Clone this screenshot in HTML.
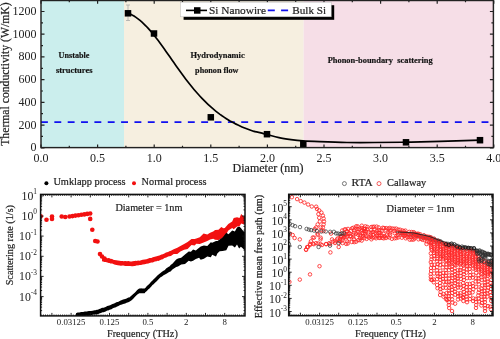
<!DOCTYPE html>
<html><head><meta charset="utf-8"><style>
html,body{margin:0;padding:0;background:#fff;width:500px;height:339px;overflow:hidden}
svg{display:block;filter:blur(0.3px)}
text{stroke:#222;stroke-width:0.2px} text.t{stroke-width:0}
</style></head><body>
<svg width="500" height="339" viewBox="0 0 500 339">

<rect width="500" height="339" fill="#fff"/>
<rect x="41" y="0" width="83" height="147.6" fill="#CBEEED"/><rect x="124" y="0" width="179.60000000000002" height="147.6" fill="#F6EFE0"/><rect x="303.6" y="0" width="189.79999999999995" height="147.6" fill="#F6DEE7"/><text x="58.6" y="57.9" font-family='"Liberation Serif", serif' font-weight="bold" font-size="8.6" textLength="30.8" lengthAdjust="spacingAndGlyphs" fill="#111">Unstable</text><text x="55.9" y="73.3" font-family='"Liberation Serif", serif' font-weight="bold" font-size="8.6" textLength="36.6" lengthAdjust="spacingAndGlyphs" fill="#111">structures</text><text x="190.5" y="58.3" font-family='"Liberation Serif", serif' font-weight="bold" font-size="8.6" textLength="54.21" lengthAdjust="spacingAndGlyphs" fill="#111">Hydrodynamic</text><text x="195.1" y="73.0" font-family='"Liberation Serif", serif' font-weight="bold" font-size="8.6" textLength="43.4" lengthAdjust="spacingAndGlyphs" fill="#111">phonon flow</text><text x="327.7" y="63.0" font-family='"Liberation Serif", serif' font-weight="bold" font-size="8.8" textLength="105" lengthAdjust="spacingAndGlyphs" fill="#111">Phonon-boundary&#160;&#160;scattering</text><line x1="41" y1="122.2" x2="489" y2="122.2" stroke="#1010F0" stroke-width="1.8" stroke-dasharray="6.9 6.45"/><path d="M128.0,12.93 L130.0,13.85 L132.0,14.90 L134.0,16.08 L136.0,17.40 L138.0,18.86 L140.0,20.45 L142.0,22.18 L144.0,24.05 L146.0,26.04 L148.0,28.16 L150.0,30.40 L152.0,32.75 L154.0,35.20 L156.0,37.74 L158.0,40.35 L160.0,43.04 L162.0,45.78 L164.0,48.57 L166.0,51.39 L168.0,54.24 L170.0,57.10 L172.0,59.97 L174.0,62.83 L176.0,65.67 L178.0,68.49 L180.0,71.28 L182.0,74.03 L184.0,76.74 L186.0,79.39 L188.0,81.99 L190.0,84.54 L192.0,87.02 L194.0,89.43 L196.0,91.78 L198.0,94.05 L200.0,96.26 L202.0,98.39 L204.0,100.45 L206.0,102.43 L208.0,104.35 L210.0,106.19 L212.0,107.96 L214.0,109.66 L216.0,111.29 L218.0,112.85 L220.0,114.35 L222.0,115.78 L224.0,117.14 L226.0,118.45 L228.0,119.70 L230.0,120.89 L232.0,122.02 L234.0,123.10 L236.0,124.13 L238.0,125.11 L240.0,126.04 L242.0,126.92 L244.0,127.76 L246.0,128.56 L248.0,129.32 L250.0,130.04 L252.0,130.72 L254.0,131.37 L254.0,131.37109738366442 C255.3,131.7 259.3,132.4 262,133.1 C264.7,133.8 267.2,134.6 270,135.3 C272.8,136.1 275.5,136.9 279,137.6 C282.5,138.3 287.0,139.0 291,139.6 C295.0,140.2 298.2,140.6 303,140.9 C307.8,141.2 312.7,141.4 320,141.7 C327.3,142.0 338.0,142.4 347,142.5 C356.0,142.6 364.2,142.6 374,142.5 C383.8,142.4 395.0,142.4 406,142.2 C417.0,142.0 427.7,141.6 440,141.3 C452.3,141.0 473.3,140.4 480,140.2" fill="none" stroke="#000" stroke-width="1.7"/><g stroke="#aaa" stroke-width="0.8"><line x1="128" y1="5" x2="128" y2="10"/><line x1="126" y1="5" x2="130" y2="5"/><line x1="128" y1="16.5" x2="128" y2="20.5"/><line x1="126" y1="20.5" x2="130" y2="20.5"/></g><rect x="124.75" y="10.05" width="6.5" height="6.5" fill="#000"/><rect x="150.75" y="30.25" width="6.5" height="6.5" fill="#000"/><rect x="207.55" y="114.05" width="6.5" height="6.5" fill="#000"/><rect x="263.75" y="130.95" width="6.5" height="6.5" fill="#000"/><rect x="300.05" y="140.95" width="6.5" height="6.5" fill="#000"/><rect x="402.75" y="139.05" width="6.5" height="6.5" fill="#000"/><rect x="476.75" y="136.95" width="6.5" height="6.5" fill="#000"/><rect x="41" y="0.5" width="452.4" height="147.1" fill="none" stroke="#222" stroke-width="1.45"/><path d="M41.0,147.6v-3.2M41.0,0.5v3.2M69.3,147.6v-1.8M69.3,0.5v1.8M97.6,147.6v-3.2M97.6,0.5v3.2M125.9,147.6v-1.8M125.9,0.5v1.8M154.2,147.6v-3.2M154.2,0.5v3.2M182.5,147.6v-1.8M182.5,0.5v1.8M210.8,147.6v-3.2M210.8,0.5v3.2M239.1,147.6v-1.8M239.1,0.5v1.8M267.4,147.6v-3.2M267.4,0.5v3.2M295.7,147.6v-1.8M295.7,0.5v1.8M324.0,147.6v-3.2M324.0,0.5v3.2M352.3,147.6v-1.8M352.3,0.5v1.8M380.6,147.6v-3.2M380.6,0.5v3.2M408.9,147.6v-1.8M408.9,0.5v1.8M437.2,147.6v-3.2M437.2,0.5v3.2M465.5,147.6v-1.8M465.5,0.5v1.8M493.8,147.6v-3.2M493.8,0.5v3.2M41,147.8h3.5M493.4,147.8h-3.5M41,136.4h2M493.4,136.4h-2M41,125.1h3.5M493.4,125.1h-3.5M41,113.7h2M493.4,113.7h-2M41,102.4h3.5M493.4,102.4h-3.5M41,91.0h2M493.4,91.0h-2M41,79.6h3.5M493.4,79.6h-3.5M41,68.3h2M493.4,68.3h-2M41,56.9h3.5M493.4,56.9h-3.5M41,45.6h2M493.4,45.6h-2M41,34.2h3.5M493.4,34.2h-3.5M41,22.8h2M493.4,22.8h-2M41,11.5h3.5M493.4,11.5h-3.5" stroke="#222" stroke-width="1.2" fill="none"/><text class="t" x="36.4" y="151.2" text-anchor="end" font-family='"Liberation Serif", serif' font-size="12" fill="#222">0</text><text class="t" x="36.4" y="128.5" text-anchor="end" font-family='"Liberation Serif", serif' font-size="12" fill="#222">200</text><text class="t" x="36.4" y="105.8" text-anchor="end" font-family='"Liberation Serif", serif' font-size="12" fill="#222">400</text><text class="t" x="36.4" y="83.0" text-anchor="end" font-family='"Liberation Serif", serif' font-size="12" fill="#222">600</text><text class="t" x="36.4" y="60.3" text-anchor="end" font-family='"Liberation Serif", serif' font-size="12" fill="#222">800</text><text class="t" x="36.4" y="37.6" text-anchor="end" font-family='"Liberation Serif", serif' font-size="12" fill="#222">1000</text><text class="t" x="36.4" y="14.9" text-anchor="end" font-family='"Liberation Serif", serif' font-size="12" fill="#222">1200</text><text class="t" x="41.0" y="161.9" text-anchor="middle" font-family='"Liberation Serif", serif' font-size="12" fill="#222">0.0</text><text class="t" x="97.6" y="161.9" text-anchor="middle" font-family='"Liberation Serif", serif' font-size="12" fill="#222">0.5</text><text class="t" x="154.2" y="161.9" text-anchor="middle" font-family='"Liberation Serif", serif' font-size="12" fill="#222">1.0</text><text class="t" x="210.8" y="161.9" text-anchor="middle" font-family='"Liberation Serif", serif' font-size="12" fill="#222">1.5</text><text class="t" x="267.4" y="161.9" text-anchor="middle" font-family='"Liberation Serif", serif' font-size="12" fill="#222">2.0</text><text class="t" x="324.0" y="161.9" text-anchor="middle" font-family='"Liberation Serif", serif' font-size="12" fill="#222">2.5</text><text class="t" x="380.6" y="161.9" text-anchor="middle" font-family='"Liberation Serif", serif' font-size="12" fill="#222">3.0</text><text class="t" x="437.2" y="161.9" text-anchor="middle" font-family='"Liberation Serif", serif' font-size="12" fill="#222">3.5</text><text class="t" x="493.8" y="161.9" text-anchor="middle" font-family='"Liberation Serif", serif' font-size="12" fill="#222">4.0</text><text x="232.6" y="172.2" font-family='"Liberation Serif", serif' font-size="12.6" textLength="71.01" lengthAdjust="spacingAndGlyphs" fill="#222">Diameter (nm)</text><text transform="translate(8.6,145.8) rotate(-90)" x="0" y="0" font-family='"Liberation Serif", serif' font-size="12" textLength="143.5" lengthAdjust="spacingAndGlyphs" fill="#222">Thermal conductivity (W/mK)</text><rect x="183.6" y="5.2" width="150.6" height="14.6" fill="#000"/><rect x="180.6" y="2.2" width="150.6" height="14.6" fill="#fff" stroke="#bbb" stroke-width="0.5"/><line x1="186" y1="10.4" x2="207" y2="10.4" stroke="#000" stroke-width="1.6"/><rect x="194" y="7.2" width="6.5" height="6.5" fill="#000"/><text x="208.9" y="13.6" font-family='"Liberation Serif", serif' font-size="11.3" textLength="57.04" lengthAdjust="spacingAndGlyphs" fill="#222">Si Nanowire</text><line x1="267.8" y1="10.4" x2="290" y2="10.4" stroke="#1010F0" stroke-width="1.8" stroke-dasharray="7 6.3"/><text x="292.3" y="13.6" font-family='"Liberation Serif", serif' font-size="11.3" textLength="33.86" lengthAdjust="spacingAndGlyphs" fill="#222">Bulk Si</text><clipPath id="cb"><rect x="40.6" y="194.4" width="204.4" height="121.49999999999997"/></clipPath><g fill="#F21010" clip-path="url(#cb)"><circle cx="40.7" cy="216.2" r="2.3"/><circle cx="46.5" cy="219.8" r="2.3"/><circle cx="52.0" cy="216.5" r="2.3"/><circle cx="52.0" cy="218.9" r="2.3"/><circle cx="61.7" cy="216.5" r="2.3"/><circle cx="65.3" cy="217.0" r="2.3"/><circle cx="69.5" cy="216.5" r="2.3"/><circle cx="72.5" cy="216.1" r="2.3"/><circle cx="75.4" cy="215.6" r="2.3"/><circle cx="78.4" cy="215.2" r="2.3"/><circle cx="81.3" cy="214.8" r="2.3"/><circle cx="84.3" cy="214.4" r="2.3"/><circle cx="87.2" cy="213.9" r="2.3"/><circle cx="90.2" cy="213.5" r="2.3"/><circle cx="90.2" cy="218.9" r="2.3"/><circle cx="92.3" cy="229.7" r="2.3"/><circle cx="95.2" cy="241.0" r="2.3"/><circle cx="97.5" cy="241.5" r="2.3"/><circle cx="100.0" cy="254.0" r="2.3"/><circle cx="102.0" cy="256.5" r="2.3"/><circle cx="104.5" cy="258.5" r="2.3"/></g><path clip-path="url(#cb)" d="M102.0,256.2 L103.0,256.5 L104.5,257.1 L105.7,257.8 L107.3,258.2 L108.8,258.1 L109.6,258.2 L110.3,258.7 L112.2,259.0 L113.3,259.7 L114.3,260.0 L116.4,260.2 L117.8,260.6 L119.6,260.8 L121.0,260.9 L122.6,261.0 L123.5,261.2 L125.1,261.0 L127.0,261.3 L128.4,261.1 L130.2,261.6 L131.8,261.6 L132.6,261.2 L134.4,261.1 L135.9,260.8 L137.0,260.9 L137.8,260.4 L139.7,260.7 L141.0,260.2 L142.7,259.8 L144.7,259.5 L146.4,259.2 L148.4,258.6 L149.6,258.0 L151.4,257.9 L152.8,257.3 L154.8,256.7 L156.7,256.3 L157.5,255.9 L158.4,255.8 L159.4,255.6 L161.5,254.5 L162.8,254.3 L164.4,253.4 L165.5,252.8 L166.9,252.2 L168.1,252.0 L169.3,251.2 L170.9,250.8 L173.7,249.3 L177.3,247.8 L180.4,246.0 L184.1,244.0 L187.6,241.9 L191.5,238.9 L194.6,239.1 L196.3,238.5 L199.8,237.2 L203.6,233.6 L207.3,234.4 L210.1,232.7 L213.2,231.4 L215.1,230.0 L218.5,229.8 L221.3,226.9 L223.4,228.2 L224.8,228.1 L228.3,224.0 L232.2,221.5 L233.7,218.0 L237.1,217.2 L239.5,218.0 L241.2,214.1 L243.3,216.3 L246.6,215.6 L247.0,212.3 L247.0,224.2 L246.6,223.2 L243.3,224.2 L241.2,223.6 L239.5,226.3 L237.1,226.4 L233.7,229.2 L232.2,228.0 L228.3,230.4 L224.8,236.8 L223.4,237.7 L221.3,238.7 L218.5,239.9 L215.1,239.8 L213.2,238.7 L210.1,239.4 L207.3,241.1 L203.6,242.4 L199.8,244.0 L196.3,243.7 L194.6,245.4 L191.5,244.9 L187.6,249.0 L184.1,249.8 L180.4,251.6 L177.3,253.9 L173.7,254.1 L170.9,255.9 L169.3,256.3 L168.1,256.4 L166.9,257.3 L165.5,257.8 L164.4,258.1 L162.8,259.2 L161.5,259.4 L159.4,260.6 L158.4,260.9 L157.5,260.8 L156.7,261.3 L154.8,261.5 L152.8,262.4 L151.4,262.4 L149.6,263.1 L148.4,263.5 L146.4,263.8 L144.7,264.3 L142.7,264.6 L141.0,264.9 L139.7,264.9 L137.8,265.5 L137.0,265.2 L135.9,265.8 L134.4,266.0 L132.6,266.2 L131.8,266.3 L130.2,266.0 L128.4,266.1 L127.0,266.0 L125.1,266.1 L123.5,265.5 L122.6,265.6 L121.0,265.7 L119.6,265.4 L117.8,265.3 L116.4,264.9 L114.3,264.6 L113.3,264.0 L112.2,263.6 L110.3,263.4 L109.6,263.0 L108.8,263.0 L107.3,262.4 L105.7,262.1 L104.5,262.0 L103.0,261.5 L102.0,261.2Z" fill="#F21010"/><path clip-path="url(#cb)" d="M76.0,313.3 L77.6,312.5 L79.3,312.5 L81.1,312.1 L83.1,312.1 L84.9,311.6 L86.9,311.6 L87.6,311.3 L89.0,310.9 L91.0,311.1 L92.6,310.7 L94.6,310.2 L95.4,310.3 L96.8,309.8 L97.8,309.7 L99.3,308.9 L100.8,308.6 L101.5,308.1 L102.5,307.7 L103.6,307.8 L105.6,306.9 L107.3,306.1 L108.3,305.7 L110.1,305.2 L111.0,304.8 L112.5,304.1 L113.4,303.7 L114.1,303.4 L116.0,302.4 L117.0,302.1 L118.0,301.9 L120.1,300.8 L122.0,300.0 L123.1,299.6 L125.2,298.9 L126.6,298.4 L128.3,297.6 L129.3,297.4 L131.3,295.8 L133.0,294.2 L135.0,292.4 L137.0,290.2 L138.1,289.3 L139.3,288.4 L140.2,288.6 L141.1,288.3 L141.9,288.5 L143.0,288.4 L144.6,288.6 L145.3,288.0 L146.9,286.0 L148.1,285.1 L149.2,284.0 L151.1,281.8 L152.5,280.5 L153.6,279.3 L155.0,278.0 L156.7,276.2 L157.4,275.6 L159.5,273.7 L160.2,273.3 L162.0,271.8 L163.9,270.5 L164.6,270.2 L166.4,268.3 L167.6,267.4 L169.1,266.4 L169.8,266.2 L170.6,265.1 L172.4,263.8 L176.2,259.5 L178.0,258.6 L181.2,257.8 L185.0,254.5 L188.7,251.5 L190.9,251.8 L193.1,249.4 L195.8,250.5 L199.1,247.7 L200.7,246.6 L203.9,245.5 L207.3,246.1 L210.8,242.3 L212.2,242.8 L216.0,240.9 L217.5,241.1 L219.7,239.4 L222.6,237.5 L226.3,232.8 L228.5,234.2 L232.2,230.5 L234.9,231.5 L237.0,227.4 L239.1,226.6 L240.9,227.9 L242.4,229.9 L244.1,231.8 L247.0,230.1 L247.0,251.1 L244.1,249.7 L242.4,248.0 L240.9,246.7 L239.1,248.4 L237.0,244.6 L234.9,247.6 L232.2,245.6 L228.5,245.7 L226.3,250.3 L222.6,250.9 L219.7,251.2 L217.5,253.2 L216.0,256.4 L212.2,254.7 L210.8,257.2 L207.3,256.6 L203.9,258.8 L200.7,259.7 L199.1,257.7 L195.8,259.1 L193.1,260.7 L190.9,261.4 L188.7,260.8 L185.0,264.0 L181.2,264.6 L178.0,266.4 L176.2,267.0 L172.4,269.5 L170.6,271.4 L169.8,271.7 L169.1,272.0 L167.6,272.9 L166.4,273.7 L164.6,274.7 L163.9,275.1 L162.0,276.5 L160.2,277.6 L159.5,278.2 L157.4,280.5 L156.7,281.2 L155.0,282.7 L153.6,284.2 L152.5,285.1 L151.1,286.8 L149.2,288.7 L148.1,289.6 L146.9,290.9 L145.3,292.3 L144.6,293.2 L143.0,293.2 L141.9,293.2 L141.1,293.3 L140.2,293.3 L139.3,293.3 L138.1,294.1 L137.0,294.7 L135.0,296.8 L133.0,299.0 L131.3,300.5 L129.3,301.7 L128.3,302.3 L126.6,302.7 L125.2,303.5 L123.1,304.1 L122.0,304.4 L120.1,305.0 L118.0,306.3 L117.0,306.5 L116.0,307.2 L114.1,307.7 L113.4,308.1 L112.5,308.6 L111.0,309.4 L110.1,309.5 L108.3,310.5 L107.3,310.5 L105.6,311.4 L103.6,312.3 L102.5,312.3 L101.5,312.7 L100.8,313.0 L99.3,313.5 L97.8,314.2 L96.8,314.6 L95.4,314.5 L94.6,314.5 L92.6,314.8 L91.0,315.3 L89.0,315.7 L87.6,315.9 L86.9,315.6 L84.9,315.9 L83.1,316.4 L81.1,316.7 L79.3,316.9 L77.6,317.5 L76.0,317.2Z" fill="#000"/><rect x="40.6" y="194.4" width="204.4" height="121.49999999999997" fill="none" stroke="#111" stroke-width="1.5"/><path d="M40.6,310.6h1.5M245,310.6h-1.5M40.6,307.1h1.5M245,307.1h-1.5M40.6,304.6h1.5M245,304.6h-1.5M40.6,302.6h1.5M245,302.6h-1.5M40.6,301.0h1.5M245,301.0h-1.5M40.6,299.7h1.5M245,299.7h-1.5M40.6,298.5h1.5M245,298.5h-1.5M40.6,297.5h1.5M245,297.5h-1.5M40.6,296.6h3M245,296.6h-3M40.6,290.5h1.5M245,290.5h-1.5M40.6,287.0h1.5M245,287.0h-1.5M40.6,284.4h1.5M245,284.4h-1.5M40.6,282.5h1.5M245,282.5h-1.5M40.6,280.9h1.5M245,280.9h-1.5M40.6,279.5h1.5M245,279.5h-1.5M40.6,278.4h1.5M245,278.4h-1.5M40.6,277.3h1.5M245,277.3h-1.5M40.6,276.4h3M245,276.4h-3M40.6,270.4h1.5M245,270.4h-1.5M40.6,266.8h1.5M245,266.8h-1.5M40.6,264.3h1.5M245,264.3h-1.5M40.6,262.3h1.5M245,262.3h-1.5M40.6,260.7h1.5M245,260.7h-1.5M40.6,259.4h1.5M245,259.4h-1.5M40.6,258.2h1.5M245,258.2h-1.5M40.6,257.2h1.5M245,257.2h-1.5M40.6,256.3h3M245,256.3h-3M40.6,250.2h1.5M245,250.2h-1.5M40.6,246.7h1.5M245,246.7h-1.5M40.6,244.2h1.5M245,244.2h-1.5M40.6,242.2h1.5M245,242.2h-1.5M40.6,240.6h1.5M245,240.6h-1.5M40.6,239.3h1.5M245,239.3h-1.5M40.6,238.1h1.5M245,238.1h-1.5M40.6,237.1h1.5M245,237.1h-1.5M40.6,236.1h3M245,236.1h-3M40.6,230.1h1.5M245,230.1h-1.5M40.6,226.5h1.5M245,226.5h-1.5M40.6,224.0h1.5M245,224.0h-1.5M40.6,222.1h1.5M245,222.1h-1.5M40.6,220.5h1.5M245,220.5h-1.5M40.6,219.1h1.5M245,219.1h-1.5M40.6,218.0h1.5M245,218.0h-1.5M40.6,216.9h1.5M245,216.9h-1.5M40.6,216.0h3M245,216.0h-3M40.6,209.9h1.5M245,209.9h-1.5M40.6,206.4h1.5M245,206.4h-1.5M40.6,203.9h1.5M245,203.9h-1.5M40.6,201.9h1.5M245,201.9h-1.5M40.6,200.3h1.5M245,200.3h-1.5M40.6,199.0h1.5M245,199.0h-1.5M40.6,197.8h1.5M245,197.8h-1.5M40.6,196.8h1.5M245,196.8h-1.5M40.6,195.9h3M245,195.9h-3M41.2,315.9v-1.4M41.2,194.4v1.4M43.4,315.9v-1.4M43.4,194.4v1.4M45.5,315.9v-1.4M45.5,194.4v1.4M47.6,315.9v-1.4M47.6,194.4v1.4M49.8,315.9v-1.4M49.8,194.4v1.4M51.9,315.9v-3M51.9,194.4v3M54.0,315.9v-1.4M54.0,194.4v1.4M56.2,315.9v-1.4M56.2,194.4v1.4M58.3,315.9v-1.4M58.3,194.4v1.4M60.4,315.9v-1.4M60.4,194.4v1.4M62.6,315.9v-1.4M62.6,194.4v1.4M64.7,315.9v-1.4M64.7,194.4v1.4M66.8,315.9v-1.4M66.8,194.4v1.4M69.0,315.9v-1.4M69.0,194.4v1.4M71.1,315.9v-3M71.1,194.4v3M73.2,315.9v-1.4M73.2,194.4v1.4M75.4,315.9v-1.4M75.4,194.4v1.4M77.5,315.9v-1.4M77.5,194.4v1.4M79.6,315.9v-1.4M79.6,194.4v1.4M81.8,315.9v-1.4M81.8,194.4v1.4M83.9,315.9v-1.4M83.9,194.4v1.4M86.0,315.9v-1.4M86.0,194.4v1.4M88.2,315.9v-1.4M88.2,194.4v1.4M90.3,315.9v-3M90.3,194.4v3M92.4,315.9v-1.4M92.4,194.4v1.4M94.6,315.9v-1.4M94.6,194.4v1.4M96.7,315.9v-1.4M96.7,194.4v1.4M98.8,315.9v-1.4M98.8,194.4v1.4M101.0,315.9v-1.4M101.0,194.4v1.4M103.1,315.9v-1.4M103.1,194.4v1.4M105.2,315.9v-1.4M105.2,194.4v1.4M107.4,315.9v-1.4M107.4,194.4v1.4M109.5,315.9v-3M109.5,194.4v3M111.6,315.9v-1.4M111.6,194.4v1.4M113.8,315.9v-1.4M113.8,194.4v1.4M115.9,315.9v-1.4M115.9,194.4v1.4M118.0,315.9v-1.4M118.0,194.4v1.4M120.2,315.9v-1.4M120.2,194.4v1.4M122.3,315.9v-1.4M122.3,194.4v1.4M124.4,315.9v-1.4M124.4,194.4v1.4M126.6,315.9v-1.4M126.6,194.4v1.4M128.7,315.9v-3M128.7,194.4v3M130.8,315.9v-1.4M130.8,194.4v1.4M133.0,315.9v-1.4M133.0,194.4v1.4M135.1,315.9v-1.4M135.1,194.4v1.4M137.2,315.9v-1.4M137.2,194.4v1.4M139.4,315.9v-1.4M139.4,194.4v1.4M141.5,315.9v-1.4M141.5,194.4v1.4M143.6,315.9v-1.4M143.6,194.4v1.4M145.8,315.9v-1.4M145.8,194.4v1.4M147.9,315.9v-3M147.9,194.4v3M150.0,315.9v-1.4M150.0,194.4v1.4M152.2,315.9v-1.4M152.2,194.4v1.4M154.3,315.9v-1.4M154.3,194.4v1.4M156.4,315.9v-1.4M156.4,194.4v1.4M158.6,315.9v-1.4M158.6,194.4v1.4M160.7,315.9v-1.4M160.7,194.4v1.4M162.8,315.9v-1.4M162.8,194.4v1.4M165.0,315.9v-1.4M165.0,194.4v1.4M167.1,315.9v-3M167.1,194.4v3M169.2,315.9v-1.4M169.2,194.4v1.4M171.4,315.9v-1.4M171.4,194.4v1.4M173.5,315.9v-1.4M173.5,194.4v1.4M175.6,315.9v-1.4M175.6,194.4v1.4M177.8,315.9v-1.4M177.8,194.4v1.4M179.9,315.9v-1.4M179.9,194.4v1.4M182.0,315.9v-1.4M182.0,194.4v1.4M184.2,315.9v-1.4M184.2,194.4v1.4M186.3,315.9v-3M186.3,194.4v3M188.4,315.9v-1.4M188.4,194.4v1.4M190.6,315.9v-1.4M190.6,194.4v1.4M192.7,315.9v-1.4M192.7,194.4v1.4M194.8,315.9v-1.4M194.8,194.4v1.4M197.0,315.9v-1.4M197.0,194.4v1.4M199.1,315.9v-1.4M199.1,194.4v1.4M201.2,315.9v-1.4M201.2,194.4v1.4M203.4,315.9v-1.4M203.4,194.4v1.4M205.5,315.9v-3M205.5,194.4v3M207.6,315.9v-1.4M207.6,194.4v1.4M209.8,315.9v-1.4M209.8,194.4v1.4M211.9,315.9v-1.4M211.9,194.4v1.4M214.0,315.9v-1.4M214.0,194.4v1.4M216.2,315.9v-1.4M216.2,194.4v1.4M218.3,315.9v-1.4M218.3,194.4v1.4M220.4,315.9v-1.4M220.4,194.4v1.4M222.6,315.9v-1.4M222.6,194.4v1.4M224.7,315.9v-3M224.7,194.4v3M226.8,315.9v-1.4M226.8,194.4v1.4M229.0,315.9v-1.4M229.0,194.4v1.4M231.1,315.9v-1.4M231.1,194.4v1.4M233.2,315.9v-1.4M233.2,194.4v1.4M235.4,315.9v-1.4M235.4,194.4v1.4M237.5,315.9v-1.4M237.5,194.4v1.4M239.6,315.9v-1.4M239.6,194.4v1.4M241.8,315.9v-1.4M241.8,194.4v1.4M243.9,315.9v-3M243.9,194.4v3" stroke="#111" stroke-width="0.9" fill="none"/><text class="t" x="71.1" y="325.2" text-anchor="middle" font-family='"Liberation Serif", serif' font-size="8.8" fill="#222">0.03125</text><text class="t" x="109.5" y="325.2" text-anchor="middle" font-family='"Liberation Serif", serif' font-size="8.8" fill="#222">0.125</text><text class="t" x="147.9" y="325.2" text-anchor="middle" font-family='"Liberation Serif", serif' font-size="8.8" fill="#222">0.5</text><text class="t" x="186.3" y="325.2" text-anchor="middle" font-family='"Liberation Serif", serif' font-size="8.8" fill="#222">2</text><text class="t" x="224.7" y="325.2" text-anchor="middle" font-family='"Liberation Serif", serif' font-size="8.8" fill="#222">8</text><text class="t" x="37" y="300.6" text-anchor="end" font-family='"Liberation Serif", serif' font-size="7.5" fill="#222"><tspan font-size="11.8">10</tspan><tspan font-size="7.4" dy="-5.6">-4</tspan></text><text class="t" x="37" y="280.4" text-anchor="end" font-family='"Liberation Serif", serif' font-size="7.5" fill="#222"><tspan font-size="11.8">10</tspan><tspan font-size="7.4" dy="-5.6">-3</tspan></text><text class="t" x="37" y="260.3" text-anchor="end" font-family='"Liberation Serif", serif' font-size="7.5" fill="#222"><tspan font-size="11.8">10</tspan><tspan font-size="7.4" dy="-5.6">-2</tspan></text><text class="t" x="37" y="240.1" text-anchor="end" font-family='"Liberation Serif", serif' font-size="7.5" fill="#222"><tspan font-size="11.8">10</tspan><tspan font-size="7.4" dy="-5.6">-1</tspan></text><text class="t" x="37" y="220.0" text-anchor="end" font-family='"Liberation Serif", serif' font-size="7.5" fill="#222"><tspan font-size="11.8">10</tspan><tspan font-size="7.4" dy="-5.6">0</tspan></text><text class="t" x="37" y="199.9" text-anchor="end" font-family='"Liberation Serif", serif' font-size="7.5" fill="#222"><tspan font-size="11.8">10</tspan><tspan font-size="7.4" dy="-5.6">1</tspan></text><text x="107" y="336.8" font-family='"Liberation Serif", serif' font-size="10.9" textLength="70.83" lengthAdjust="spacingAndGlyphs" fill="#222">Frequency (THz)</text><text transform="translate(13,285.3) rotate(-90)" font-family='"Liberation Serif", serif' font-size="11" textLength="80.3" lengthAdjust="spacingAndGlyphs" fill="#222">Scattering rate (1/s)</text><text x="115.4" y="211" font-family='"Liberation Serif", serif' font-size="10.8" textLength="67.02" lengthAdjust="spacingAndGlyphs" fill="#222">Diameter = 1nm</text><circle cx="46.4" cy="183.2" r="2" fill="#000"/><text x="53.4" y="184.9" font-family='"Liberation Serif", serif' font-size="11" textLength="72.24" lengthAdjust="spacingAndGlyphs" fill="#222">Umklapp process</text><circle cx="134" cy="183.2" r="2" fill="#F21010"/><text x="141.6" y="184.9" font-family='"Liberation Serif", serif' font-size="11" textLength="64.83" lengthAdjust="spacingAndGlyphs" fill="#222">Normal process</text><clipPath id="cr"><rect x="288.7" y="194.3" width="204.3" height="121.39999999999998"/></clipPath><g clip-path="url(#cr)" fill="none" stroke-width="0.7"><g stroke="#444"><circle cx="400.0" cy="233.2" r="1.75"/><circle cx="402.0" cy="233.5" r="1.75"/><circle cx="404.0" cy="233.4" r="1.75"/><circle cx="406.0" cy="233.2" r="1.75"/><circle cx="408.0" cy="234.3" r="1.75"/><circle cx="410.0" cy="234.4" r="1.75"/><circle cx="412.0" cy="234.3" r="1.75"/><circle cx="413.1" cy="235.7" r="1.75"/><circle cx="414.0" cy="233.9" r="1.75"/><circle cx="415.1" cy="234.8" r="1.75"/><circle cx="416.0" cy="234.3" r="1.75"/><circle cx="417.1" cy="234.8" r="1.75"/><circle cx="418.0" cy="235.4" r="1.75"/><circle cx="419.1" cy="236.1" r="1.75"/><circle cx="420.0" cy="235.9" r="1.75"/><circle cx="421.1" cy="236.5" r="1.75"/><circle cx="422.0" cy="236.6" r="1.75"/><circle cx="423.1" cy="238.1" r="1.75"/><circle cx="424.0" cy="235.7" r="1.75"/><circle cx="425.1" cy="237.0" r="1.75"/><circle cx="426.0" cy="237.4" r="1.75"/><circle cx="427.1" cy="238.1" r="1.75"/><circle cx="428.0" cy="237.9" r="1.75"/><circle cx="429.1" cy="238.3" r="1.75"/><circle cx="430.0" cy="237.1" r="1.75"/><circle cx="431.1" cy="239.4" r="1.75"/><circle cx="432.0" cy="238.9" r="1.75"/><circle cx="433.1" cy="239.3" r="1.75"/><circle cx="434.0" cy="238.7" r="1.75"/><circle cx="435.1" cy="240.2" r="1.75"/><circle cx="436.0" cy="240.7" r="1.75"/><circle cx="437.1" cy="242.1" r="1.75"/><circle cx="438.0" cy="240.4" r="1.75"/><circle cx="439.1" cy="241.6" r="1.75"/><circle cx="440.0" cy="241.1" r="1.75"/><circle cx="441.1" cy="241.9" r="1.75"/><circle cx="442.0" cy="242.9" r="1.75"/><circle cx="443.1" cy="243.0" r="1.75"/><circle cx="444.0" cy="243.4" r="1.75"/><circle cx="445.1" cy="244.5" r="1.75"/><circle cx="446.0" cy="243.5" r="1.75"/><circle cx="447.1" cy="245.8" r="1.75"/><circle cx="448.0" cy="243.8" r="1.75"/><circle cx="449.1" cy="246.0" r="1.75"/><circle cx="450.0" cy="244.2" r="1.75"/><circle cx="451.1" cy="245.9" r="1.75"/><circle cx="452.0" cy="244.7" r="1.75"/><circle cx="453.1" cy="245.9" r="1.75"/><circle cx="454.0" cy="246.2" r="1.75"/><circle cx="455.1" cy="247.6" r="1.75"/><circle cx="456.0" cy="245.6" r="1.75"/><circle cx="457.1" cy="248.2" r="1.75"/><circle cx="458.0" cy="245.9" r="1.75"/><circle cx="459.1" cy="247.4" r="1.75"/><circle cx="460.0" cy="247.2" r="1.75"/><circle cx="461.1" cy="248.4" r="1.75"/><circle cx="462.0" cy="246.5" r="1.75"/><circle cx="463.1" cy="249.7" r="1.75"/><circle cx="464.0" cy="247.1" r="1.75"/><circle cx="465.1" cy="248.2" r="1.75"/><circle cx="466.0" cy="248.3" r="1.75"/><circle cx="467.1" cy="248.8" r="1.75"/><circle cx="468.0" cy="248.0" r="1.75"/><circle cx="469.1" cy="248.6" r="1.75"/><circle cx="470.0" cy="248.1" r="1.75"/><circle cx="471.1" cy="250.3" r="1.75"/><circle cx="472.0" cy="248.7" r="1.75"/><circle cx="473.1" cy="250.7" r="1.75"/><circle cx="474.0" cy="249.3" r="1.75"/><circle cx="475.1" cy="250.7" r="1.75"/><circle cx="476.0" cy="250.7" r="1.75"/></g><g stroke="#FF2828" stroke-width="0.85"><circle cx="291.9" cy="197.2" r="1.75"/><circle cx="297.1" cy="199.1" r="1.75"/><circle cx="300.7" cy="201.1" r="1.75"/><circle cx="304.4" cy="202.6" r="1.75"/><circle cx="308.1" cy="204.5" r="1.75"/><circle cx="311.8" cy="206.5" r="1.75"/><circle cx="316.2" cy="206.7" r="1.75"/><circle cx="317.0" cy="209.0" r="1.75"/><circle cx="319.2" cy="210.4" r="1.75"/><circle cx="321.4" cy="212.6" r="1.75"/><circle cx="322.9" cy="215.6" r="1.75"/><circle cx="323.6" cy="218.5" r="1.75"/><circle cx="324.0" cy="221.5" r="1.75"/><circle cx="323.6" cy="224.4" r="1.75"/><circle cx="322.9" cy="227.4" r="1.75"/><circle cx="323.6" cy="231.1" r="1.75"/><circle cx="318.4" cy="214.1" r="1.75"/><circle cx="319.2" cy="217.8" r="1.75"/><circle cx="319.9" cy="221.5" r="1.75"/><circle cx="317.7" cy="224.4" r="1.75"/><circle cx="316.2" cy="227.4" r="1.75"/><circle cx="314.8" cy="228.9" r="1.75"/><circle cx="320.7" cy="227.4" r="1.75"/><circle cx="321.4" cy="230.3" r="1.75"/><circle cx="317.7" cy="234.8" r="1.75"/><circle cx="314.0" cy="237.7" r="1.75"/><circle cx="320.7" cy="237.7" r="1.75"/><circle cx="289.8" cy="233.6" r="1.75"/><circle cx="292.7" cy="235.0" r="1.75"/><circle cx="294.6" cy="238.0" r="1.75"/><circle cx="299.8" cy="239.4" r="1.75"/><circle cx="306.1" cy="249.9" r="1.75"/><circle cx="307.1" cy="247.0" r="1.75"/><circle cx="310.0" cy="243.8" r="1.75"/><circle cx="310.9" cy="241.3" r="1.75"/><circle cx="312.8" cy="237.5" r="1.75"/><circle cx="313.8" cy="244.2" r="1.75"/><circle cx="317.6" cy="233.6" r="1.75"/><circle cx="320.5" cy="244.2" r="1.75"/><circle cx="320.5" cy="239.4" r="1.75"/><circle cx="326.2" cy="244.2" r="1.75"/><circle cx="329.1" cy="243.2" r="1.75"/><circle cx="331.0" cy="233.6" r="1.75"/><circle cx="332.0" cy="239.4" r="1.75"/><circle cx="334.9" cy="241.3" r="1.75"/><circle cx="337.7" cy="238.4" r="1.75"/><circle cx="340.6" cy="236.5" r="1.75"/><circle cx="343.5" cy="235.5" r="1.75"/><circle cx="338.7" cy="247.0" r="1.75"/><circle cx="330.4" cy="252.4" r="1.75"/><circle cx="319.5" cy="266.2" r="1.75"/><circle cx="310.0" cy="274.4" r="1.75"/><circle cx="299.8" cy="279.6" r="1.75"/><circle cx="289.4" cy="281.9" r="1.75"/><circle cx="340.2" cy="239.0" r="1.75"/><circle cx="340.3" cy="241.6" r="1.75"/><circle cx="342.2" cy="230.5" r="1.75"/><circle cx="341.4" cy="235.9" r="1.75"/><circle cx="342.5" cy="240.4" r="1.75"/><circle cx="342.5" cy="243.1" r="1.75"/><circle cx="344.5" cy="229.6" r="1.75"/><circle cx="344.1" cy="237.2" r="1.75"/><circle cx="345.5" cy="229.3" r="1.75"/><circle cx="346.3" cy="234.3" r="1.75"/><circle cx="345.3" cy="237.2" r="1.75"/><circle cx="346.2" cy="243.9" r="1.75"/><circle cx="348.0" cy="228.9" r="1.75"/><circle cx="347.0" cy="231.1" r="1.75"/><circle cx="347.7" cy="233.7" r="1.75"/><circle cx="347.2" cy="241.5" r="1.75"/><circle cx="347.8" cy="243.5" r="1.75"/><circle cx="349.7" cy="233.5" r="1.75"/><circle cx="349.9" cy="236.4" r="1.75"/><circle cx="349.3" cy="239.1" r="1.75"/><circle cx="352.0" cy="228.3" r="1.75"/><circle cx="351.1" cy="230.8" r="1.75"/><circle cx="351.1" cy="236.2" r="1.75"/><circle cx="351.8" cy="242.0" r="1.75"/><circle cx="353.3" cy="227.8" r="1.75"/><circle cx="354.1" cy="230.2" r="1.75"/><circle cx="354.1" cy="232.7" r="1.75"/><circle cx="353.4" cy="234.8" r="1.75"/><circle cx="353.3" cy="237.1" r="1.75"/><circle cx="354.0" cy="239.2" r="1.75"/><circle cx="354.3" cy="242.1" r="1.75"/><circle cx="356.2" cy="226.3" r="1.75"/><circle cx="356.3" cy="228.6" r="1.75"/><circle cx="356.0" cy="233.7" r="1.75"/><circle cx="356.2" cy="241.7" r="1.75"/><circle cx="357.6" cy="226.3" r="1.75"/><circle cx="358.0" cy="229.3" r="1.75"/><circle cx="358.1" cy="232.1" r="1.75"/><circle cx="358.2" cy="234.8" r="1.75"/><circle cx="358.1" cy="240.1" r="1.75"/><circle cx="359.7" cy="228.8" r="1.75"/><circle cx="359.5" cy="233.5" r="1.75"/><circle cx="360.3" cy="235.7" r="1.75"/><circle cx="360.2" cy="238.0" r="1.75"/><circle cx="359.6" cy="240.1" r="1.75"/><circle cx="361.8" cy="225.7" r="1.75"/><circle cx="361.9" cy="228.0" r="1.75"/><circle cx="362.1" cy="230.2" r="1.75"/><circle cx="362.3" cy="232.8" r="1.75"/><circle cx="362.3" cy="237.7" r="1.75"/><circle cx="361.7" cy="240.6" r="1.75"/><circle cx="363.9" cy="228.9" r="1.75"/><circle cx="364.1" cy="231.1" r="1.75"/><circle cx="363.2" cy="233.6" r="1.75"/><circle cx="363.1" cy="236.0" r="1.75"/><circle cx="364.2" cy="238.2" r="1.75"/><circle cx="365.4" cy="226.3" r="1.75"/><circle cx="364.9" cy="228.9" r="1.75"/><circle cx="365.4" cy="231.0" r="1.75"/><circle cx="364.9" cy="233.6" r="1.75"/><circle cx="365.8" cy="235.7" r="1.75"/><circle cx="367.3" cy="226.9" r="1.75"/><circle cx="367.0" cy="229.2" r="1.75"/><circle cx="366.4" cy="231.7" r="1.75"/><circle cx="367.3" cy="236.5" r="1.75"/><circle cx="366.6" cy="238.9" r="1.75"/><circle cx="368.7" cy="232.3" r="1.75"/><circle cx="369.1" cy="237.6" r="1.75"/><circle cx="371.3" cy="227.0" r="1.75"/><circle cx="371.2" cy="229.9" r="1.75"/><circle cx="371.1" cy="232.6" r="1.75"/><circle cx="370.8" cy="234.7" r="1.75"/><circle cx="371.0" cy="236.7" r="1.75"/><circle cx="371.4" cy="239.3" r="1.75"/><circle cx="372.8" cy="226.9" r="1.75"/><circle cx="373.0" cy="232.0" r="1.75"/><circle cx="372.9" cy="234.9" r="1.75"/><circle cx="372.6" cy="237.7" r="1.75"/><circle cx="374.2" cy="226.7" r="1.75"/><circle cx="374.5" cy="229.6" r="1.75"/><circle cx="375.1" cy="232.6" r="1.75"/><circle cx="374.8" cy="237.3" r="1.75"/><circle cx="376.6" cy="226.6" r="1.75"/><circle cx="376.6" cy="231.1" r="1.75"/><circle cx="376.6" cy="233.4" r="1.75"/><circle cx="376.7" cy="236.0" r="1.75"/><circle cx="376.1" cy="238.3" r="1.75"/><circle cx="378.7" cy="227.4" r="1.75"/><circle cx="378.8" cy="230.1" r="1.75"/><circle cx="378.7" cy="233.1" r="1.75"/><circle cx="378.7" cy="235.5" r="1.75"/><circle cx="378.7" cy="237.8" r="1.75"/><circle cx="380.3" cy="230.4" r="1.75"/><circle cx="379.6" cy="232.9" r="1.75"/><circle cx="380.1" cy="235.4" r="1.75"/><circle cx="379.9" cy="238.0" r="1.75"/><circle cx="382.7" cy="227.8" r="1.75"/><circle cx="381.8" cy="230.7" r="1.75"/><circle cx="381.9" cy="235.6" r="1.75"/><circle cx="382.2" cy="237.9" r="1.75"/><circle cx="383.9" cy="228.0" r="1.75"/><circle cx="383.7" cy="233.9" r="1.75"/><circle cx="384.3" cy="236.2" r="1.75"/><circle cx="383.7" cy="238.3" r="1.75"/><circle cx="386.2" cy="228.1" r="1.75"/><circle cx="386.2" cy="230.5" r="1.75"/><circle cx="386.7" cy="235.4" r="1.75"/><circle cx="386.0" cy="238.0" r="1.75"/><circle cx="388.3" cy="228.6" r="1.75"/><circle cx="388.2" cy="231.6" r="1.75"/><circle cx="387.7" cy="236.8" r="1.75"/><circle cx="389.8" cy="227.9" r="1.75"/><circle cx="390.1" cy="230.6" r="1.75"/><circle cx="390.0" cy="232.7" r="1.75"/><circle cx="390.1" cy="234.8" r="1.75"/><circle cx="389.4" cy="237.5" r="1.75"/><circle cx="392.2" cy="228.5" r="1.75"/><circle cx="391.9" cy="238.8" r="1.75"/><circle cx="394.1" cy="228.7" r="1.75"/><circle cx="394.2" cy="231.0" r="1.75"/><circle cx="394.7" cy="233.2" r="1.75"/><circle cx="394.6" cy="238.3" r="1.75"/><circle cx="396.2" cy="228.6" r="1.75"/><circle cx="396.5" cy="235.9" r="1.75"/><circle cx="396.4" cy="238.0" r="1.75"/><circle cx="398.1" cy="229.6" r="1.75"/><circle cx="397.5" cy="232.2" r="1.75"/><circle cx="398.1" cy="235.0" r="1.75"/><circle cx="398.4" cy="237.4" r="1.75"/><circle cx="400.0" cy="229.7" r="1.75"/><circle cx="400.2" cy="232.6" r="1.75"/><circle cx="402.4" cy="230.4" r="1.75"/><circle cx="402.1" cy="233.2" r="1.75"/><circle cx="402.7" cy="235.3" r="1.75"/><circle cx="401.8" cy="237.7" r="1.75"/><circle cx="403.8" cy="231.2" r="1.75"/><circle cx="404.3" cy="233.3" r="1.75"/><circle cx="403.9" cy="235.5" r="1.75"/><circle cx="405.4" cy="230.6" r="1.75"/><circle cx="405.3" cy="233.3" r="1.75"/><circle cx="405.3" cy="235.5" r="1.75"/><circle cx="405.7" cy="238.3" r="1.75"/><circle cx="407.7" cy="234.1" r="1.75"/><circle cx="407.3" cy="237.0" r="1.75"/><circle cx="409.3" cy="231.9" r="1.75"/><circle cx="409.3" cy="234.9" r="1.75"/><circle cx="409.4" cy="236.9" r="1.75"/><circle cx="409.7" cy="239.7" r="1.75"/><circle cx="411.7" cy="232.0" r="1.75"/><circle cx="411.9" cy="234.5" r="1.75"/><circle cx="410.9" cy="236.8" r="1.75"/><circle cx="411.7" cy="239.6" r="1.75"/><circle cx="413.8" cy="232.2" r="1.75"/><circle cx="413.5" cy="234.3" r="1.75"/><circle cx="414.0" cy="237.3" r="1.75"/><circle cx="413.5" cy="239.6" r="1.75"/><circle cx="415.3" cy="233.5" r="1.75"/><circle cx="415.6" cy="236.0" r="1.75"/><circle cx="414.7" cy="238.4" r="1.75"/><circle cx="417.4" cy="233.8" r="1.75"/><circle cx="417.2" cy="235.9" r="1.75"/><circle cx="418.5" cy="233.8" r="1.75"/><circle cx="418.2" cy="236.3" r="1.75"/><circle cx="418.5" cy="239.3" r="1.75"/><circle cx="420.4" cy="234.3" r="1.75"/><circle cx="420.8" cy="236.6" r="1.75"/><circle cx="420.9" cy="238.9" r="1.75"/><circle cx="422.3" cy="237.1" r="1.75"/><circle cx="422.4" cy="239.8" r="1.75"/><circle cx="424.0" cy="235.4" r="1.75"/><circle cx="425.0" cy="237.9" r="1.75"/><circle cx="424.7" cy="240.3" r="1.75"/><circle cx="426.6" cy="236.4" r="1.75"/><circle cx="427.0" cy="238.4" r="1.75"/><circle cx="426.9" cy="241.4" r="1.75"/><circle cx="426.5" cy="244.0" r="1.75"/><circle cx="428.9" cy="236.8" r="1.75"/><circle cx="429.2" cy="242.2" r="1.75"/><circle cx="430.5" cy="237.9" r="1.75"/><circle cx="431.3" cy="243.2" r="1.75"/><circle cx="431.3" cy="237.6" r="1.75"/><circle cx="431.0" cy="239.4" r="1.75"/><circle cx="431.1" cy="241.3" r="1.75"/><circle cx="430.8" cy="243.0" r="1.75"/><circle cx="430.8" cy="245.0" r="1.75"/><circle cx="431.2" cy="246.9" r="1.75"/><circle cx="431.3" cy="248.7" r="1.75"/><circle cx="431.7" cy="250.2" r="1.75"/><circle cx="430.8" cy="253.4" r="1.75"/><circle cx="431.6" cy="256.6" r="1.75"/><circle cx="431.5" cy="259.3" r="1.75"/><circle cx="430.8" cy="262.1" r="1.75"/><circle cx="431.7" cy="264.7" r="1.75"/><circle cx="431.0" cy="268.0" r="1.75"/><circle cx="431.1" cy="271.0" r="1.75"/><circle cx="430.7" cy="274.0" r="1.75"/><circle cx="430.8" cy="276.8" r="1.75"/><circle cx="430.9" cy="279.7" r="1.75"/><circle cx="434.2" cy="239.0" r="1.75"/><circle cx="434.2" cy="240.4" r="1.75"/><circle cx="434.5" cy="241.9" r="1.75"/><circle cx="434.0" cy="243.7" r="1.75"/><circle cx="434.2" cy="245.3" r="1.75"/><circle cx="434.3" cy="247.1" r="1.75"/><circle cx="434.0" cy="249.0" r="1.75"/><circle cx="434.4" cy="251.0" r="1.75"/><circle cx="434.0" cy="252.9" r="1.75"/><circle cx="434.1" cy="255.9" r="1.75"/><circle cx="434.5" cy="258.8" r="1.75"/><circle cx="434.3" cy="264.8" r="1.75"/><circle cx="433.9" cy="267.8" r="1.75"/><circle cx="434.1" cy="273.5" r="1.75"/><circle cx="433.8" cy="279.5" r="1.75"/><circle cx="433.8" cy="282.3" r="1.75"/><circle cx="437.7" cy="240.9" r="1.75"/><circle cx="437.6" cy="242.6" r="1.75"/><circle cx="437.6" cy="244.1" r="1.75"/><circle cx="437.7" cy="245.8" r="1.75"/><circle cx="437.6" cy="247.3" r="1.75"/><circle cx="437.3" cy="248.8" r="1.75"/><circle cx="436.8" cy="250.7" r="1.75"/><circle cx="437.1" cy="252.3" r="1.75"/><circle cx="436.9" cy="253.9" r="1.75"/><circle cx="437.2" cy="255.8" r="1.75"/><circle cx="436.9" cy="258.7" r="1.75"/><circle cx="437.1" cy="261.3" r="1.75"/><circle cx="437.8" cy="264.2" r="1.75"/><circle cx="437.1" cy="267.2" r="1.75"/><circle cx="437.0" cy="270.4" r="1.75"/><circle cx="437.3" cy="273.6" r="1.75"/><circle cx="437.8" cy="276.3" r="1.75"/><circle cx="437.0" cy="279.1" r="1.75"/><circle cx="437.1" cy="285.0" r="1.75"/><circle cx="437.5" cy="288.2" r="1.75"/><circle cx="440.0" cy="242.1" r="1.75"/><circle cx="440.2" cy="243.6" r="1.75"/><circle cx="440.1" cy="245.5" r="1.75"/><circle cx="440.2" cy="247.0" r="1.75"/><circle cx="440.7" cy="248.8" r="1.75"/><circle cx="440.6" cy="250.4" r="1.75"/><circle cx="440.5" cy="252.3" r="1.75"/><circle cx="440.2" cy="253.9" r="1.75"/><circle cx="440.6" cy="255.8" r="1.75"/><circle cx="440.6" cy="257.4" r="1.75"/><circle cx="440.4" cy="258.8" r="1.75"/><circle cx="440.0" cy="261.8" r="1.75"/><circle cx="440.2" cy="264.8" r="1.75"/><circle cx="440.2" cy="270.8" r="1.75"/><circle cx="440.1" cy="273.6" r="1.75"/><circle cx="440.0" cy="276.8" r="1.75"/><circle cx="440.3" cy="279.7" r="1.75"/><circle cx="440.1" cy="283.0" r="1.75"/><circle cx="440.3" cy="286.0" r="1.75"/><circle cx="440.4" cy="289.0" r="1.75"/><circle cx="440.6" cy="292.0" r="1.75"/><circle cx="440.1" cy="295.0" r="1.75"/><circle cx="443.6" cy="243.8" r="1.75"/><circle cx="443.0" cy="245.7" r="1.75"/><circle cx="443.0" cy="247.4" r="1.75"/><circle cx="443.3" cy="249.1" r="1.75"/><circle cx="443.4" cy="250.6" r="1.75"/><circle cx="443.3" cy="252.4" r="1.75"/><circle cx="442.9" cy="254.3" r="1.75"/><circle cx="442.8" cy="255.8" r="1.75"/><circle cx="443.2" cy="257.5" r="1.75"/><circle cx="443.0" cy="259.2" r="1.75"/><circle cx="443.3" cy="264.3" r="1.75"/><circle cx="442.9" cy="267.4" r="1.75"/><circle cx="443.3" cy="273.1" r="1.75"/><circle cx="442.9" cy="275.9" r="1.75"/><circle cx="443.0" cy="279.0" r="1.75"/><circle cx="443.6" cy="281.7" r="1.75"/><circle cx="443.0" cy="287.8" r="1.75"/><circle cx="443.7" cy="294.0" r="1.75"/><circle cx="443.5" cy="296.7" r="1.75"/><circle cx="446.0" cy="244.4" r="1.75"/><circle cx="445.6" cy="245.9" r="1.75"/><circle cx="446.3" cy="247.9" r="1.75"/><circle cx="445.8" cy="249.7" r="1.75"/><circle cx="446.1" cy="251.2" r="1.75"/><circle cx="446.0" cy="252.8" r="1.75"/><circle cx="445.9" cy="254.7" r="1.75"/><circle cx="446.5" cy="256.3" r="1.75"/><circle cx="445.6" cy="258.1" r="1.75"/><circle cx="446.2" cy="259.8" r="1.75"/><circle cx="446.2" cy="261.2" r="1.75"/><circle cx="446.4" cy="264.4" r="1.75"/><circle cx="446.4" cy="267.3" r="1.75"/><circle cx="445.8" cy="270.2" r="1.75"/><circle cx="446.1" cy="273.0" r="1.75"/><circle cx="445.8" cy="275.7" r="1.75"/><circle cx="446.0" cy="278.7" r="1.75"/><circle cx="446.4" cy="282.0" r="1.75"/><circle cx="445.6" cy="284.7" r="1.75"/><circle cx="445.8" cy="287.8" r="1.75"/><circle cx="446.5" cy="293.2" r="1.75"/><circle cx="445.9" cy="296.3" r="1.75"/><circle cx="445.9" cy="299.0" r="1.75"/><circle cx="449.0" cy="245.1" r="1.75"/><circle cx="448.8" cy="246.7" r="1.75"/><circle cx="449.0" cy="248.7" r="1.75"/><circle cx="449.2" cy="250.5" r="1.75"/><circle cx="449.1" cy="252.0" r="1.75"/><circle cx="448.7" cy="253.5" r="1.75"/><circle cx="449.3" cy="255.0" r="1.75"/><circle cx="449.0" cy="256.4" r="1.75"/><circle cx="449.2" cy="258.1" r="1.75"/><circle cx="449.4" cy="259.6" r="1.75"/><circle cx="449.4" cy="261.1" r="1.75"/><circle cx="448.8" cy="262.9" r="1.75"/><circle cx="449.4" cy="264.4" r="1.75"/><circle cx="449.5" cy="267.3" r="1.75"/><circle cx="449.0" cy="270.1" r="1.75"/><circle cx="449.2" cy="275.5" r="1.75"/><circle cx="449.0" cy="278.6" r="1.75"/><circle cx="448.9" cy="281.7" r="1.75"/><circle cx="449.6" cy="284.8" r="1.75"/><circle cx="449.3" cy="288.0" r="1.75"/><circle cx="449.1" cy="290.6" r="1.75"/><circle cx="449.0" cy="293.3" r="1.75"/><circle cx="448.8" cy="296.2" r="1.75"/><circle cx="448.8" cy="299.1" r="1.75"/><circle cx="448.8" cy="302.2" r="1.75"/><circle cx="448.8" cy="305.0" r="1.75"/><circle cx="449.2" cy="308.0" r="1.75"/><circle cx="451.5" cy="246.4" r="1.75"/><circle cx="451.5" cy="248.1" r="1.75"/><circle cx="452.0" cy="249.8" r="1.75"/><circle cx="451.7" cy="251.5" r="1.75"/><circle cx="451.4" cy="253.0" r="1.75"/><circle cx="452.3" cy="254.6" r="1.75"/><circle cx="451.7" cy="256.4" r="1.75"/><circle cx="451.6" cy="258.2" r="1.75"/><circle cx="452.0" cy="259.8" r="1.75"/><circle cx="451.8" cy="261.8" r="1.75"/><circle cx="452.2" cy="263.6" r="1.75"/><circle cx="451.8" cy="266.6" r="1.75"/><circle cx="452.2" cy="269.5" r="1.75"/><circle cx="452.3" cy="272.7" r="1.75"/><circle cx="451.9" cy="275.3" r="1.75"/><circle cx="452.4" cy="278.1" r="1.75"/><circle cx="451.6" cy="280.9" r="1.75"/><circle cx="451.4" cy="283.9" r="1.75"/><circle cx="451.6" cy="286.9" r="1.75"/><circle cx="451.9" cy="289.9" r="1.75"/><circle cx="452.2" cy="292.9" r="1.75"/><circle cx="451.7" cy="296.2" r="1.75"/><circle cx="452.1" cy="299.4" r="1.75"/><circle cx="452.4" cy="302.5" r="1.75"/><circle cx="454.7" cy="247.4" r="1.75"/><circle cx="454.9" cy="249.3" r="1.75"/><circle cx="454.6" cy="250.8" r="1.75"/><circle cx="454.6" cy="252.4" r="1.75"/><circle cx="454.5" cy="254.1" r="1.75"/><circle cx="454.5" cy="255.6" r="1.75"/><circle cx="455.1" cy="257.0" r="1.75"/><circle cx="454.8" cy="258.5" r="1.75"/><circle cx="454.9" cy="260.4" r="1.75"/><circle cx="455.3" cy="261.9" r="1.75"/><circle cx="454.4" cy="263.8" r="1.75"/><circle cx="455.2" cy="265.3" r="1.75"/><circle cx="454.6" cy="268.2" r="1.75"/><circle cx="454.7" cy="271.3" r="1.75"/><circle cx="455.2" cy="274.4" r="1.75"/><circle cx="455.1" cy="277.4" r="1.75"/><circle cx="455.2" cy="280.5" r="1.75"/><circle cx="455.1" cy="283.2" r="1.75"/><circle cx="454.4" cy="285.9" r="1.75"/><circle cx="455.4" cy="288.9" r="1.75"/><circle cx="454.8" cy="291.6" r="1.75"/><circle cx="455.3" cy="294.7" r="1.75"/><circle cx="455.1" cy="303.7" r="1.75"/><circle cx="457.7" cy="248.0" r="1.75"/><circle cx="457.5" cy="249.6" r="1.75"/><circle cx="458.0" cy="251.2" r="1.75"/><circle cx="457.4" cy="253.1" r="1.75"/><circle cx="457.8" cy="254.8" r="1.75"/><circle cx="458.1" cy="256.6" r="1.75"/><circle cx="457.9" cy="258.3" r="1.75"/><circle cx="458.0" cy="260.0" r="1.75"/><circle cx="457.3" cy="261.5" r="1.75"/><circle cx="458.1" cy="262.9" r="1.75"/><circle cx="457.3" cy="264.5" r="1.75"/><circle cx="457.8" cy="270.3" r="1.75"/><circle cx="457.6" cy="273.1" r="1.75"/><circle cx="457.2" cy="276.0" r="1.75"/><circle cx="457.5" cy="278.6" r="1.75"/><circle cx="457.6" cy="281.3" r="1.75"/><circle cx="458.0" cy="284.6" r="1.75"/><circle cx="458.0" cy="287.5" r="1.75"/><circle cx="457.8" cy="293.4" r="1.75"/><circle cx="458.0" cy="296.2" r="1.75"/><circle cx="458.0" cy="299.5" r="1.75"/><circle cx="460.3" cy="248.9" r="1.75"/><circle cx="460.3" cy="250.7" r="1.75"/><circle cx="460.0" cy="252.4" r="1.75"/><circle cx="460.9" cy="254.0" r="1.75"/><circle cx="460.5" cy="255.4" r="1.75"/><circle cx="460.8" cy="257.2" r="1.75"/><circle cx="460.4" cy="259.1" r="1.75"/><circle cx="460.8" cy="261.0" r="1.75"/><circle cx="461.0" cy="262.8" r="1.75"/><circle cx="460.4" cy="264.3" r="1.75"/><circle cx="460.9" cy="267.4" r="1.75"/><circle cx="460.2" cy="270.0" r="1.75"/><circle cx="460.6" cy="272.9" r="1.75"/><circle cx="460.6" cy="276.0" r="1.75"/><circle cx="460.9" cy="278.9" r="1.75"/><circle cx="460.2" cy="284.5" r="1.75"/><circle cx="460.6" cy="287.7" r="1.75"/><circle cx="460.4" cy="293.1" r="1.75"/><circle cx="460.4" cy="295.7" r="1.75"/><circle cx="460.9" cy="298.5" r="1.75"/><circle cx="463.3" cy="250.2" r="1.75"/><circle cx="463.6" cy="252.2" r="1.75"/><circle cx="463.4" cy="254.2" r="1.75"/><circle cx="463.9" cy="255.8" r="1.75"/><circle cx="463.5" cy="257.3" r="1.75"/><circle cx="464.1" cy="259.1" r="1.75"/><circle cx="463.4" cy="260.7" r="1.75"/><circle cx="464.2" cy="262.4" r="1.75"/><circle cx="463.8" cy="263.8" r="1.75"/><circle cx="463.4" cy="265.5" r="1.75"/><circle cx="464.0" cy="268.5" r="1.75"/><circle cx="463.8" cy="271.5" r="1.75"/><circle cx="463.9" cy="274.2" r="1.75"/><circle cx="463.6" cy="277.1" r="1.75"/><circle cx="463.8" cy="280.0" r="1.75"/><circle cx="463.2" cy="283.0" r="1.75"/><circle cx="463.8" cy="286.0" r="1.75"/><circle cx="463.3" cy="289.1" r="1.75"/><circle cx="463.9" cy="292.0" r="1.75"/><circle cx="464.2" cy="294.8" r="1.75"/><circle cx="463.3" cy="297.7" r="1.75"/><circle cx="463.4" cy="301.0" r="1.75"/><circle cx="467.1" cy="250.8" r="1.75"/><circle cx="467.3" cy="252.5" r="1.75"/><circle cx="467.2" cy="254.0" r="1.75"/><circle cx="466.5" cy="255.8" r="1.75"/><circle cx="466.7" cy="257.7" r="1.75"/><circle cx="467.1" cy="259.4" r="1.75"/><circle cx="466.6" cy="260.9" r="1.75"/><circle cx="466.4" cy="262.7" r="1.75"/><circle cx="467.1" cy="264.4" r="1.75"/><circle cx="467.1" cy="266.1" r="1.75"/><circle cx="466.8" cy="269.3" r="1.75"/><circle cx="466.4" cy="272.6" r="1.75"/><circle cx="467.1" cy="278.1" r="1.75"/><circle cx="467.1" cy="284.0" r="1.75"/><circle cx="466.4" cy="287.0" r="1.75"/><circle cx="466.9" cy="290.3" r="1.75"/><circle cx="466.5" cy="293.5" r="1.75"/><circle cx="466.3" cy="296.6" r="1.75"/><circle cx="466.9" cy="299.4" r="1.75"/><circle cx="467.0" cy="302.2" r="1.75"/><circle cx="470.2" cy="250.5" r="1.75"/><circle cx="469.6" cy="252.2" r="1.75"/><circle cx="470.3" cy="253.7" r="1.75"/><circle cx="470.0" cy="255.6" r="1.75"/><circle cx="469.6" cy="257.2" r="1.75"/><circle cx="469.4" cy="258.8" r="1.75"/><circle cx="469.7" cy="260.6" r="1.75"/><circle cx="469.7" cy="262.5" r="1.75"/><circle cx="469.8" cy="264.2" r="1.75"/><circle cx="470.0" cy="266.1" r="1.75"/><circle cx="469.5" cy="268.9" r="1.75"/><circle cx="470.1" cy="272.1" r="1.75"/><circle cx="470.2" cy="275.2" r="1.75"/><circle cx="469.9" cy="278.1" r="1.75"/><circle cx="469.7" cy="283.9" r="1.75"/><circle cx="470.0" cy="287.1" r="1.75"/><circle cx="469.7" cy="290.2" r="1.75"/><circle cx="469.5" cy="292.9" r="1.75"/><circle cx="470.1" cy="295.8" r="1.75"/><circle cx="469.8" cy="299.0" r="1.75"/><circle cx="472.9" cy="251.3" r="1.75"/><circle cx="473.2" cy="253.1" r="1.75"/><circle cx="473.4" cy="254.7" r="1.75"/><circle cx="472.5" cy="256.7" r="1.75"/><circle cx="473.0" cy="258.5" r="1.75"/><circle cx="473.0" cy="260.1" r="1.75"/><circle cx="473.2" cy="261.7" r="1.75"/><circle cx="473.5" cy="263.5" r="1.75"/><circle cx="472.9" cy="265.4" r="1.75"/><circle cx="473.2" cy="268.6" r="1.75"/><circle cx="473.2" cy="274.9" r="1.75"/><circle cx="472.7" cy="277.6" r="1.75"/><circle cx="472.6" cy="283.3" r="1.75"/><circle cx="473.1" cy="286.1" r="1.75"/><circle cx="473.3" cy="289.2" r="1.75"/><circle cx="472.6" cy="292.3" r="1.75"/><circle cx="473.4" cy="298.4" r="1.75"/><circle cx="473.0" cy="301.0" r="1.75"/><circle cx="475.8" cy="252.4" r="1.75"/><circle cx="475.8" cy="253.9" r="1.75"/><circle cx="475.4" cy="255.4" r="1.75"/><circle cx="475.6" cy="257.1" r="1.75"/><circle cx="475.5" cy="259.0" r="1.75"/><circle cx="475.3" cy="260.6" r="1.75"/><circle cx="475.7" cy="262.1" r="1.75"/><circle cx="475.7" cy="263.9" r="1.75"/><circle cx="475.4" cy="265.8" r="1.75"/><circle cx="475.4" cy="267.7" r="1.75"/><circle cx="475.7" cy="269.7" r="1.75"/><circle cx="476.2" cy="272.7" r="1.75"/><circle cx="476.0" cy="278.3" r="1.75"/><circle cx="475.8" cy="281.4" r="1.75"/><circle cx="475.9" cy="286.8" r="1.75"/><circle cx="475.8" cy="298.9" r="1.75"/><circle cx="476.2" cy="302.0" r="1.75"/><circle cx="476.2" cy="305.0" r="1.75"/><circle cx="476.0" cy="307.9" r="1.75"/><circle cx="478.5" cy="256.0" r="1.75"/><circle cx="478.6" cy="257.6" r="1.75"/><circle cx="479.0" cy="259.1" r="1.75"/><circle cx="478.7" cy="260.5" r="1.75"/><circle cx="478.6" cy="262.2" r="1.75"/><circle cx="478.3" cy="263.8" r="1.75"/><circle cx="478.5" cy="265.4" r="1.75"/><circle cx="478.4" cy="267.1" r="1.75"/><circle cx="478.7" cy="268.9" r="1.75"/><circle cx="478.6" cy="270.3" r="1.75"/><circle cx="478.6" cy="275.3" r="1.75"/><circle cx="478.5" cy="278.4" r="1.75"/><circle cx="478.5" cy="281.4" r="1.75"/><circle cx="478.9" cy="284.3" r="1.75"/><circle cx="479.0" cy="289.7" r="1.75"/><circle cx="478.6" cy="292.6" r="1.75"/><circle cx="478.3" cy="295.4" r="1.75"/><circle cx="478.5" cy="298.7" r="1.75"/><circle cx="479.0" cy="301.6" r="1.75"/><circle cx="481.2" cy="259.6" r="1.75"/><circle cx="482.0" cy="261.6" r="1.75"/><circle cx="481.2" cy="263.4" r="1.75"/><circle cx="481.6" cy="265.2" r="1.75"/><circle cx="482.2" cy="267.0" r="1.75"/><circle cx="481.3" cy="269.0" r="1.75"/><circle cx="481.7" cy="270.8" r="1.75"/><circle cx="481.6" cy="272.7" r="1.75"/><circle cx="481.3" cy="274.3" r="1.75"/><circle cx="481.3" cy="277.2" r="1.75"/><circle cx="481.9" cy="279.8" r="1.75"/><circle cx="482.2" cy="285.5" r="1.75"/><circle cx="481.4" cy="288.5" r="1.75"/><circle cx="482.1" cy="291.4" r="1.75"/><circle cx="481.7" cy="294.1" r="1.75"/><circle cx="481.6" cy="296.7" r="1.75"/><circle cx="481.7" cy="299.8" r="1.75"/><circle cx="482.0" cy="302.9" r="1.75"/><circle cx="481.4" cy="305.5" r="1.75"/><circle cx="484.8" cy="260.8" r="1.75"/><circle cx="484.6" cy="262.7" r="1.75"/><circle cx="484.8" cy="264.4" r="1.75"/><circle cx="484.6" cy="266.4" r="1.75"/><circle cx="484.5" cy="268.2" r="1.75"/><circle cx="485.0" cy="269.8" r="1.75"/><circle cx="484.5" cy="271.5" r="1.75"/><circle cx="485.1" cy="273.0" r="1.75"/><circle cx="485.0" cy="274.6" r="1.75"/><circle cx="484.8" cy="276.3" r="1.75"/><circle cx="484.7" cy="279.5" r="1.75"/><circle cx="485.0" cy="282.5" r="1.75"/><circle cx="485.1" cy="285.2" r="1.75"/><circle cx="484.8" cy="287.8" r="1.75"/><circle cx="484.4" cy="290.8" r="1.75"/><circle cx="485.1" cy="294.0" r="1.75"/><circle cx="484.5" cy="296.7" r="1.75"/><circle cx="484.9" cy="299.4" r="1.75"/><circle cx="484.9" cy="302.1" r="1.75"/><circle cx="485.0" cy="305.4" r="1.75"/><circle cx="485.0" cy="308.2" r="1.75"/><circle cx="485.0" cy="311.0" r="1.75"/><circle cx="487.4" cy="262.1" r="1.75"/><circle cx="487.4" cy="263.7" r="1.75"/><circle cx="487.6" cy="265.1" r="1.75"/><circle cx="487.4" cy="266.7" r="1.75"/><circle cx="487.6" cy="268.3" r="1.75"/><circle cx="487.3" cy="270.2" r="1.75"/><circle cx="488.0" cy="272.1" r="1.75"/><circle cx="487.7" cy="273.9" r="1.75"/><circle cx="487.8" cy="275.7" r="1.75"/><circle cx="487.4" cy="279.0" r="1.75"/><circle cx="487.5" cy="281.6" r="1.75"/><circle cx="487.6" cy="284.8" r="1.75"/><circle cx="488.1" cy="287.6" r="1.75"/><circle cx="487.5" cy="290.6" r="1.75"/><circle cx="487.2" cy="293.3" r="1.75"/><circle cx="487.2" cy="296.6" r="1.75"/><circle cx="488.0" cy="306.1" r="1.75"/><circle cx="490.8" cy="262.7" r="1.75"/><circle cx="490.9" cy="264.7" r="1.75"/><circle cx="491.0" cy="266.6" r="1.75"/><circle cx="490.3" cy="268.3" r="1.75"/><circle cx="490.4" cy="270.1" r="1.75"/><circle cx="490.6" cy="271.8" r="1.75"/><circle cx="490.4" cy="273.5" r="1.75"/><circle cx="490.6" cy="275.3" r="1.75"/><circle cx="491.2" cy="279.9" r="1.75"/><circle cx="490.5" cy="282.9" r="1.75"/><circle cx="491.2" cy="285.8" r="1.75"/><circle cx="491.1" cy="289.0" r="1.75"/><circle cx="490.2" cy="292.2" r="1.75"/><circle cx="490.9" cy="295.2" r="1.75"/><circle cx="491.2" cy="298.2" r="1.75"/><circle cx="491.2" cy="300.9" r="1.75"/><circle cx="490.2" cy="306.7" r="1.75"/><circle cx="490.9" cy="309.3" r="1.75"/><circle cx="432.0" cy="280.0" r="1.75"/><circle cx="452.0" cy="311.0" r="1.75"/><circle cx="447.0" cy="300.0" r="1.75"/><circle cx="463.0" cy="297.0" r="1.75"/><circle cx="306.0" cy="249.5" r="1.75"/><circle cx="308.0" cy="247.0" r="1.75"/><circle cx="310.0" cy="245.0" r="1.75"/><circle cx="313.0" cy="243.5" r="1.75"/><circle cx="316.0" cy="243.2" r="1.75"/><circle cx="318.0" cy="243.5" r="1.75"/><circle cx="322.0" cy="245.0" r="1.75"/><circle cx="326.0" cy="244.0" r="1.75"/><circle cx="330.0" cy="244.0" r="1.75"/><circle cx="333.0" cy="241.5" r="1.75"/><circle cx="335.0" cy="243.0" r="1.75"/><circle cx="337.0" cy="239.5" r="1.75"/><circle cx="339.0" cy="241.0" r="1.75"/><circle cx="341.0" cy="237.0" r="1.75"/><circle cx="343.0" cy="238.5" r="1.75"/><circle cx="345.0" cy="234.5" r="1.75"/><circle cx="347.0" cy="236.5" r="1.75"/><circle cx="349.0" cy="233.5" r="1.75"/></g><g stroke="#111" stroke-width="0.8"><circle cx="446.0" cy="244.2" r="1.7"/><circle cx="448.8" cy="244.9" r="1.7"/><circle cx="451.6" cy="243.6" r="1.7"/><circle cx="454.4" cy="244.3" r="1.7"/><circle cx="457.2" cy="246.6" r="1.7"/><circle cx="460.0" cy="247.5" r="1.7"/><circle cx="462.8" cy="247.8" r="1.7"/><circle cx="465.6" cy="247.4" r="1.7"/><circle cx="468.4" cy="247.8" r="1.7"/><circle cx="471.2" cy="248.3" r="1.7"/><circle cx="474.0" cy="248.1" r="1.7"/><circle cx="476.8" cy="250.7" r="1.7"/><circle cx="479.6" cy="250.5" r="1.7"/><circle cx="482.4" cy="252.3" r="1.7"/><circle cx="485.2" cy="253.1" r="1.7"/><circle cx="488.0" cy="253.7" r="1.7"/><circle cx="490.8" cy="255.0" r="1.7"/></g><path d="M396.0,232.0 L399.0,232.1 L402.0,232.2 L405.0,232.4 L408.0,232.5 L411.0,232.7 L414.0,233.0 L417.0,233.7 L420.0,234.4 L423.0,235.0 L426.0,235.7 L429.0,236.4 L432.0,237.4 L435.0,238.6 L438.0,239.8 L441.0,241.0 L444.0,242.2" fill="none" stroke="#222" stroke-width="0.9"/><g stroke="#333"><circle cx="289.7" cy="223.7" r="1.75"/><circle cx="292.6" cy="225.2" r="1.75"/><circle cx="295.1" cy="226.2" r="1.75"/><circle cx="300.0" cy="227.1" r="1.75"/><circle cx="306.6" cy="228.9" r="1.75"/><circle cx="308.9" cy="229.6" r="1.75"/><circle cx="311.1" cy="230.1" r="1.75"/><circle cx="314.0" cy="230.6" r="1.75"/><circle cx="317.0" cy="231.1" r="1.75"/><circle cx="321.4" cy="231.5" r="1.75"/><circle cx="325.8" cy="231.5" r="1.75"/><circle cx="330.2" cy="231.8" r="1.75"/><circle cx="333.9" cy="231.8" r="1.75"/><circle cx="288.9" cy="244.2" r="1.75"/><circle cx="299.8" cy="247.0" r="1.75"/><circle cx="318.6" cy="247.0" r="1.75"/><circle cx="330.0" cy="245.7" r="1.75"/><circle cx="338.7" cy="243.2" r="1.75"/><circle cx="336.0" cy="233.4" r="1.75"/><circle cx="338.0" cy="233.5" r="1.75"/><circle cx="340.0" cy="234.0" r="1.75"/><circle cx="342.0" cy="233.4" r="1.75"/><circle cx="344.0" cy="233.4" r="1.75"/><circle cx="477.1" cy="251.4" r="1.75"/><circle cx="478.0" cy="250.9" r="1.75"/><circle cx="479.1" cy="253.0" r="1.75"/><circle cx="477.4" cy="253.4" r="1.75"/><circle cx="478.8" cy="259.4" r="1.75"/><circle cx="477.5" cy="253.8" r="1.75"/><circle cx="480.0" cy="251.8" r="1.75"/><circle cx="481.1" cy="253.9" r="1.75"/><circle cx="479.4" cy="261.3" r="1.75"/><circle cx="480.8" cy="258.2" r="1.75"/><circle cx="479.8" cy="253.7" r="1.75"/><circle cx="482.0" cy="251.5" r="1.75"/><circle cx="483.1" cy="254.7" r="1.75"/><circle cx="481.5" cy="259.8" r="1.75"/><circle cx="481.5" cy="260.9" r="1.75"/><circle cx="482.2" cy="256.1" r="1.75"/><circle cx="484.0" cy="252.4" r="1.75"/><circle cx="485.1" cy="254.8" r="1.75"/><circle cx="483.1" cy="256.2" r="1.75"/><circle cx="484.1" cy="261.9" r="1.75"/><circle cx="484.2" cy="256.7" r="1.75"/><circle cx="486.0" cy="254.2" r="1.75"/><circle cx="487.1" cy="254.2" r="1.75"/><circle cx="485.0" cy="257.3" r="1.75"/><circle cx="485.9" cy="255.4" r="1.75"/><circle cx="485.4" cy="258.2" r="1.75"/><circle cx="488.0" cy="254.4" r="1.75"/><circle cx="489.1" cy="254.7" r="1.75"/><circle cx="487.7" cy="263.6" r="1.75"/><circle cx="489.0" cy="261.5" r="1.75"/><circle cx="488.4" cy="260.9" r="1.75"/><circle cx="490.0" cy="254.2" r="1.75"/><circle cx="491.1" cy="254.8" r="1.75"/><circle cx="489.0" cy="264.2" r="1.75"/><circle cx="490.4" cy="264.6" r="1.75"/><circle cx="489.0" cy="261.7" r="1.75"/><circle cx="492.0" cy="255.0" r="1.75"/><circle cx="493.1" cy="256.9" r="1.75"/><circle cx="491.6" cy="265.3" r="1.75"/><circle cx="491.2" cy="261.2" r="1.75"/><circle cx="492.5" cy="264.4" r="1.75"/></g></g><rect x="288.7" y="194.3" width="204.3" height="121.39999999999998" fill="none" stroke="#111" stroke-width="1.5"/><path d="M288.7,315.4h1.5M493.0,315.4h-1.5M288.7,314.4h1.5M493.0,314.4h-1.5M288.7,313.5h1.5M493.0,313.5h-1.5M288.7,312.8h1.5M493.0,312.8h-1.5M288.7,312.1h1.5M493.0,312.1h-1.5M288.7,311.5h3M493.0,311.5h-3M288.7,307.6h1.5M493.0,307.6h-1.5M288.7,305.2h1.5M493.0,305.2h-1.5M288.7,303.6h1.5M493.0,303.6h-1.5M288.7,302.3h1.5M493.0,302.3h-1.5M288.7,301.3h1.5M493.0,301.3h-1.5M288.7,300.4h1.5M493.0,300.4h-1.5M288.7,299.7h1.5M493.0,299.7h-1.5M288.7,299.0h1.5M493.0,299.0h-1.5M288.7,298.4h3M493.0,298.4h-3M288.7,294.5h1.5M493.0,294.5h-1.5M288.7,292.1h1.5M493.0,292.1h-1.5M288.7,290.5h1.5M493.0,290.5h-1.5M288.7,289.2h1.5M493.0,289.2h-1.5M288.7,288.2h1.5M493.0,288.2h-1.5M288.7,287.3h1.5M493.0,287.3h-1.5M288.7,286.6h1.5M493.0,286.6h-1.5M288.7,285.9h1.5M493.0,285.9h-1.5M288.7,285.3h3M493.0,285.3h-3M288.7,281.4h1.5M493.0,281.4h-1.5M288.7,279.0h1.5M493.0,279.0h-1.5M288.7,277.4h1.5M493.0,277.4h-1.5M288.7,276.1h1.5M493.0,276.1h-1.5M288.7,275.1h1.5M493.0,275.1h-1.5M288.7,274.2h1.5M493.0,274.2h-1.5M288.7,273.5h1.5M493.0,273.5h-1.5M288.7,272.8h1.5M493.0,272.8h-1.5M288.7,272.2h3M493.0,272.2h-3M288.7,268.3h1.5M493.0,268.3h-1.5M288.7,265.9h1.5M493.0,265.9h-1.5M288.7,264.3h1.5M493.0,264.3h-1.5M288.7,263.0h1.5M493.0,263.0h-1.5M288.7,262.0h1.5M493.0,262.0h-1.5M288.7,261.1h1.5M493.0,261.1h-1.5M288.7,260.4h1.5M493.0,260.4h-1.5M288.7,259.7h1.5M493.0,259.7h-1.5M288.7,259.1h3M493.0,259.1h-3M288.7,255.2h1.5M493.0,255.2h-1.5M288.7,252.8h1.5M493.0,252.8h-1.5M288.7,251.2h1.5M493.0,251.2h-1.5M288.7,249.9h1.5M493.0,249.9h-1.5M288.7,248.9h1.5M493.0,248.9h-1.5M288.7,248.0h1.5M493.0,248.0h-1.5M288.7,247.3h1.5M493.0,247.3h-1.5M288.7,246.6h1.5M493.0,246.6h-1.5M288.7,246.0h3M493.0,246.0h-3M288.7,242.1h1.5M493.0,242.1h-1.5M288.7,239.7h1.5M493.0,239.7h-1.5M288.7,238.1h1.5M493.0,238.1h-1.5M288.7,236.8h1.5M493.0,236.8h-1.5M288.7,235.8h1.5M493.0,235.8h-1.5M288.7,234.9h1.5M493.0,234.9h-1.5M288.7,234.2h1.5M493.0,234.2h-1.5M288.7,233.5h1.5M493.0,233.5h-1.5M288.7,232.9h3M493.0,232.9h-3M288.7,229.0h1.5M493.0,229.0h-1.5M288.7,226.6h1.5M493.0,226.6h-1.5M288.7,225.0h1.5M493.0,225.0h-1.5M288.7,223.7h1.5M493.0,223.7h-1.5M288.7,222.7h1.5M493.0,222.7h-1.5M288.7,221.8h1.5M493.0,221.8h-1.5M288.7,221.1h1.5M493.0,221.1h-1.5M288.7,220.4h1.5M493.0,220.4h-1.5M288.7,219.8h3M493.0,219.8h-3M288.7,215.9h1.5M493.0,215.9h-1.5M288.7,213.5h1.5M493.0,213.5h-1.5M288.7,211.9h1.5M493.0,211.9h-1.5M288.7,210.6h1.5M493.0,210.6h-1.5M288.7,209.6h1.5M493.0,209.6h-1.5M288.7,208.7h1.5M493.0,208.7h-1.5M288.7,208.0h1.5M493.0,208.0h-1.5M288.7,207.3h1.5M493.0,207.3h-1.5M288.7,206.7h3M493.0,206.7h-3M288.7,202.8h1.5M493.0,202.8h-1.5M288.7,200.4h1.5M493.0,200.4h-1.5M288.7,198.8h1.5M493.0,198.8h-1.5M288.7,197.5h1.5M493.0,197.5h-1.5M288.7,196.5h1.5M493.0,196.5h-1.5M288.7,195.6h1.5M493.0,195.6h-1.5M288.7,194.9h1.5M493.0,194.9h-1.5M289.8,315.7v-1.4M289.8,194.3v1.4M291.9,315.7v-1.4M291.9,194.3v1.4M294.0,315.7v-1.4M294.0,194.3v1.4M296.1,315.7v-1.4M296.1,194.3v1.4M298.3,315.7v-1.4M298.3,194.3v1.4M300.4,315.7v-3M300.4,194.3v3M302.5,315.7v-1.4M302.5,194.3v1.4M304.7,315.7v-1.4M304.7,194.3v1.4M306.8,315.7v-1.4M306.8,194.3v1.4M308.9,315.7v-1.4M308.9,194.3v1.4M311.0,315.7v-1.4M311.0,194.3v1.4M313.2,315.7v-1.4M313.2,194.3v1.4M315.3,315.7v-1.4M315.3,194.3v1.4M317.4,315.7v-1.4M317.4,194.3v1.4M319.6,315.7v-3M319.6,194.3v3M321.7,315.7v-1.4M321.7,194.3v1.4M323.8,315.7v-1.4M323.8,194.3v1.4M325.9,315.7v-1.4M325.9,194.3v1.4M328.1,315.7v-1.4M328.1,194.3v1.4M330.2,315.7v-1.4M330.2,194.3v1.4M332.3,315.7v-1.4M332.3,194.3v1.4M334.4,315.7v-1.4M334.4,194.3v1.4M336.6,315.7v-1.4M336.6,194.3v1.4M338.7,315.7v-3M338.7,194.3v3M340.8,315.7v-1.4M340.8,194.3v1.4M343.0,315.7v-1.4M343.0,194.3v1.4M345.1,315.7v-1.4M345.1,194.3v1.4M347.2,315.7v-1.4M347.2,194.3v1.4M349.3,315.7v-1.4M349.3,194.3v1.4M351.5,315.7v-1.4M351.5,194.3v1.4M353.6,315.7v-1.4M353.6,194.3v1.4M355.7,315.7v-1.4M355.7,194.3v1.4M357.9,315.7v-3M357.9,194.3v3M360.0,315.7v-1.4M360.0,194.3v1.4M362.1,315.7v-1.4M362.1,194.3v1.4M364.2,315.7v-1.4M364.2,194.3v1.4M366.4,315.7v-1.4M366.4,194.3v1.4M368.5,315.7v-1.4M368.5,194.3v1.4M370.6,315.7v-1.4M370.6,194.3v1.4M372.7,315.7v-1.4M372.7,194.3v1.4M374.9,315.7v-1.4M374.9,194.3v1.4M377.0,315.7v-3M377.0,194.3v3M379.1,315.7v-1.4M379.1,194.3v1.4M381.3,315.7v-1.4M381.3,194.3v1.4M383.4,315.7v-1.4M383.4,194.3v1.4M385.5,315.7v-1.4M385.5,194.3v1.4M387.6,315.7v-1.4M387.6,194.3v1.4M389.8,315.7v-1.4M389.8,194.3v1.4M391.9,315.7v-1.4M391.9,194.3v1.4M394.0,315.7v-1.4M394.0,194.3v1.4M396.2,315.7v-3M396.2,194.3v3M398.3,315.7v-1.4M398.3,194.3v1.4M400.4,315.7v-1.4M400.4,194.3v1.4M402.5,315.7v-1.4M402.5,194.3v1.4M404.7,315.7v-1.4M404.7,194.3v1.4M406.8,315.7v-1.4M406.8,194.3v1.4M408.9,315.7v-1.4M408.9,194.3v1.4M411.0,315.7v-1.4M411.0,194.3v1.4M413.2,315.7v-1.4M413.2,194.3v1.4M415.3,315.7v-3M415.3,194.3v3M417.4,315.7v-1.4M417.4,194.3v1.4M419.6,315.7v-1.4M419.6,194.3v1.4M421.7,315.7v-1.4M421.7,194.3v1.4M423.8,315.7v-1.4M423.8,194.3v1.4M425.9,315.7v-1.4M425.9,194.3v1.4M428.1,315.7v-1.4M428.1,194.3v1.4M430.2,315.7v-1.4M430.2,194.3v1.4M432.3,315.7v-1.4M432.3,194.3v1.4M434.4,315.7v-3M434.4,194.3v3M436.6,315.7v-1.4M436.6,194.3v1.4M438.7,315.7v-1.4M438.7,194.3v1.4M440.8,315.7v-1.4M440.8,194.3v1.4M443.0,315.7v-1.4M443.0,194.3v1.4M445.1,315.7v-1.4M445.1,194.3v1.4M447.2,315.7v-1.4M447.2,194.3v1.4M449.3,315.7v-1.4M449.3,194.3v1.4M451.5,315.7v-1.4M451.5,194.3v1.4M453.6,315.7v-3M453.6,194.3v3M455.7,315.7v-1.4M455.7,194.3v1.4M457.9,315.7v-1.4M457.9,194.3v1.4M460.0,315.7v-1.4M460.0,194.3v1.4M462.1,315.7v-1.4M462.1,194.3v1.4M464.2,315.7v-1.4M464.2,194.3v1.4M466.4,315.7v-1.4M466.4,194.3v1.4M468.5,315.7v-1.4M468.5,194.3v1.4M470.6,315.7v-1.4M470.6,194.3v1.4M472.8,315.7v-3M472.8,194.3v3M474.9,315.7v-1.4M474.9,194.3v1.4M477.0,315.7v-1.4M477.0,194.3v1.4M479.1,315.7v-1.4M479.1,194.3v1.4M481.3,315.7v-1.4M481.3,194.3v1.4M483.4,315.7v-1.4M483.4,194.3v1.4M485.5,315.7v-1.4M485.5,194.3v1.4M487.6,315.7v-1.4M487.6,194.3v1.4M489.8,315.7v-1.4M489.8,194.3v1.4M491.9,315.7v-3M491.9,194.3v3" stroke="#111" stroke-width="0.9" fill="none"/><text class="t" x="319.6" y="325.2" text-anchor="middle" font-family='"Liberation Serif", serif' font-size="8.8" fill="#222">0.03125</text><text class="t" x="357.9" y="325.2" text-anchor="middle" font-family='"Liberation Serif", serif' font-size="8.8" fill="#222">0.125</text><text class="t" x="396.2" y="325.2" text-anchor="middle" font-family='"Liberation Serif", serif' font-size="8.8" fill="#222">0.5</text><text class="t" x="434.4" y="325.2" text-anchor="middle" font-family='"Liberation Serif", serif' font-size="8.8" fill="#222">2</text><text class="t" x="472.8" y="325.2" text-anchor="middle" font-family='"Liberation Serif", serif' font-size="8.8" fill="#222">8</text><text class="t" x="287" y="316.5" text-anchor="end" font-family='"Liberation Serif", serif' font-size="7.5" fill="#222"><tspan font-size="11.8">10</tspan><tspan font-size="7.4" dy="-5.6">-3</tspan></text><text class="t" x="287" y="303.4" text-anchor="end" font-family='"Liberation Serif", serif' font-size="7.5" fill="#222"><tspan font-size="11.8">10</tspan><tspan font-size="7.4" dy="-5.6">-2</tspan></text><text class="t" x="287" y="290.3" text-anchor="end" font-family='"Liberation Serif", serif' font-size="7.5" fill="#222"><tspan font-size="11.8">10</tspan><tspan font-size="7.4" dy="-5.6">-1</tspan></text><text class="t" x="287" y="277.2" text-anchor="end" font-family='"Liberation Serif", serif' font-size="7.5" fill="#222"><tspan font-size="11.8">10</tspan><tspan font-size="7.4" dy="-5.6">0</tspan></text><text class="t" x="287" y="264.1" text-anchor="end" font-family='"Liberation Serif", serif' font-size="7.5" fill="#222"><tspan font-size="11.8">10</tspan><tspan font-size="7.4" dy="-5.6">1</tspan></text><text class="t" x="287" y="251.0" text-anchor="end" font-family='"Liberation Serif", serif' font-size="7.5" fill="#222"><tspan font-size="11.8">10</tspan><tspan font-size="7.4" dy="-5.6">2</tspan></text><text class="t" x="287" y="237.9" text-anchor="end" font-family='"Liberation Serif", serif' font-size="7.5" fill="#222"><tspan font-size="11.8">10</tspan><tspan font-size="7.4" dy="-5.6">3</tspan></text><text class="t" x="287" y="224.8" text-anchor="end" font-family='"Liberation Serif", serif' font-size="7.5" fill="#222"><tspan font-size="11.8">10</tspan><tspan font-size="7.4" dy="-5.6">4</tspan></text><text class="t" x="287" y="211.7" text-anchor="end" font-family='"Liberation Serif", serif' font-size="7.5" fill="#222"><tspan font-size="11.8">10</tspan><tspan font-size="7.4" dy="-5.6">5</tspan></text><text x="355" y="336.8" font-family='"Liberation Serif", serif' font-size="10.9" textLength="71.01" lengthAdjust="spacingAndGlyphs" fill="#222">Frequency (THz)</text><text transform="translate(262,318.2) rotate(-90)" font-family='"Liberation Serif", serif' font-size="11" textLength="123.4" lengthAdjust="spacingAndGlyphs" fill="#222">Effective mean free path (nm)</text><text x="386.6" y="212" font-family='"Liberation Serif", serif' font-size="10.8" textLength="67.83" lengthAdjust="spacingAndGlyphs" fill="#222">Diameter = 1nm</text><circle cx="344.4" cy="183.6" r="2" fill="none" stroke="#555" stroke-width="0.8"/><text x="351.6" y="185.6" font-family='"Liberation Serif", serif' font-size="11" textLength="21.05" lengthAdjust="spacingAndGlyphs" fill="#222">RTA</text><circle cx="379" cy="183.6" r="2" fill="none" stroke="#F03030" stroke-width="0.8"/><text x="387" y="185.6" font-family='"Liberation Serif", serif' font-size="11" textLength="39.21" lengthAdjust="spacingAndGlyphs" fill="#222">Callaway</text>
</svg></body></html>
